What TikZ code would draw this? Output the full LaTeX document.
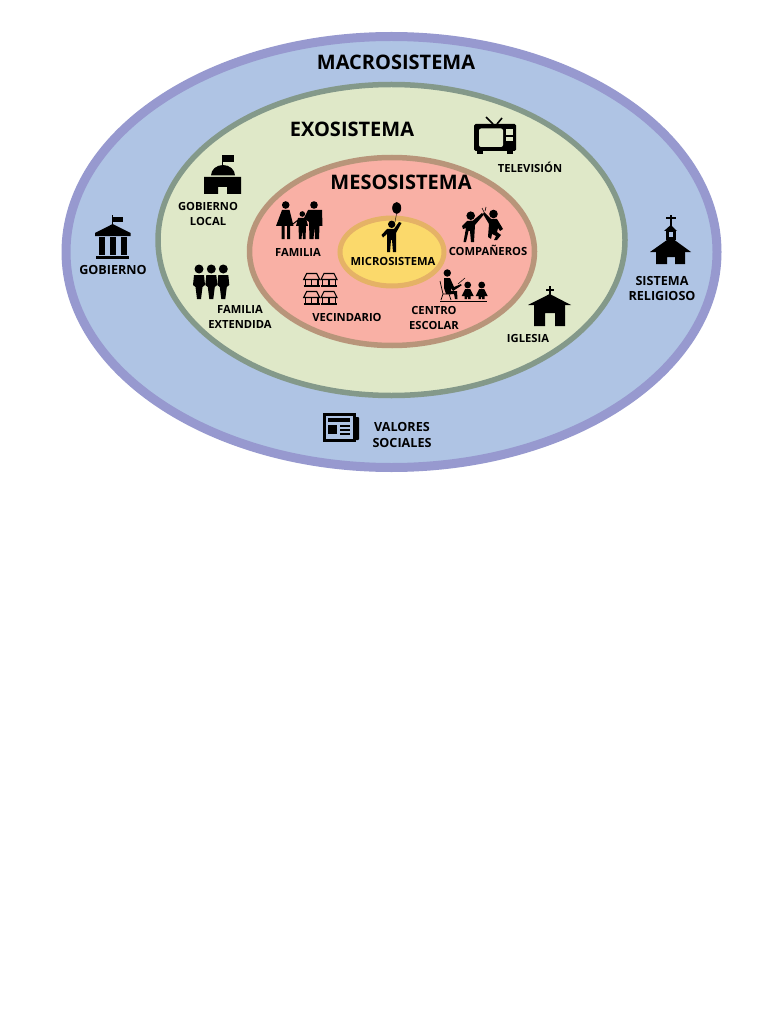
\documentclass[tikz,border=0pt]{standalone}
\usepackage{fontspec}
\setmainfont{Open Sans}
\definecolor{macrofill}{HTML}{AFC4E4}
\definecolor{macroline}{HTML}{9799CF}
\definecolor{exofill}{HTML}{DFE8C8}
\definecolor{exoline}{HTML}{84998A}
\definecolor{mesofill}{HTML}{F9B0A5}
\definecolor{mesoline}{HTML}{B8957A}
\definecolor{microfill}{HTML}{FBD96B}
\definecolor{microline}{HTML}{E5B266}
\tikzset{
    title/.style={font=\bfseries\fontsize{20}{22}\selectfont, text=black, inner sep=0pt},
    label/.style={font=\bfseries\fontsize{11.2}{14.3}\selectfont, text=black, inner sep=0pt, align=center},
    outerlabel/.style={font=\bfseries\fontsize{12.6}{15.5}\selectfont, text=black, inner sep=0pt, align=center},
    house/.pic={
        \draw [line width=1.1pt] (-8,-6.5) -- (-5,-12.5) -- (5,-12.5) -- (8,-6.5) -- cycle;
        \draw [line width=1.1pt] (-6.3,-6.5) -- (-6.3,0);
        \draw [line width=1.1pt] (6.3,-6.5) -- (6.3,0);
        \draw [line width=1.1pt] (0,-6.5) -- (0,0);
        \draw [line width=1.3pt] (-8,0) -- (8,0);
    }
}
\begin{document}
\begin{tikzpicture}[x=1pt, y=-1pt]
    \useasboundingbox (0,0) rectangle (768,1024);
    \fill [white] (0,0) rectangle (768,1024);
    \draw [macroline, fill=macrofill, line width=9pt] (391.5,252) ellipse (325.5 and 215.5);
    \draw [exoline, fill=exofill, line width=5.5pt] (391.5,240) ellipse (233.5 and 155.5);
    \draw [mesoline, fill=mesofill, line width=5.5pt] (392,251.5) ellipse (142.5 and 94);
    \draw [microline, fill=microfill, line width=5pt] (392,252) ellipse (52 and 34);

    \node [title] (macro) at (396,62) {MACROSISTEMA};
    \node [title] (exo) at (352,129) {EXOSISTEMA};
    \node [title] (meso) at (401,182) {MESOSISTEMA};
    \node [label] (micro) at (393,261) {MICROSISTEMA};
    \node [label] (familia) at (298,252) {FAMILIA};
    \node [label] (companeros) at (488,250) {COMPAÑEROS};
    \node [label] (gobiernolocal) at (208,214) {GOBIERNO\\LOCAL};
    \node [outerlabel] (gobierno) at (113,270) {GOBIERNO};
    \node [label] (extendida) at (240,317) {FAMILIA\\EXTENDIDA};
    \node [label] (vecindario) at (347,317) {VECINDARIO};
    \node [label] (escolar) at (434,318) {CENTRO\\ESCOLAR};
    \node [label] (iglesia) at (528,338) {IGLESIA};
    \node [label] (television) at (530,167) {TELEVISIÓN};
    \node [outerlabel] (religioso) at (662,288.5) {SISTEMA\\RELIGIOSO};
    \node [outerlabel] (valores) at (402,435) {VALORES\\SOCIALES};

    \fill (112.2,215) rectangle (113.2,225);
    \fill (113,217) rectangle (123,222);
    \fill (95,233) -- (112.7,224) -- (130.7,233) -- (130.7,236) -- (95,236) -- cycle;
    \fill (99,237) rectangle (105,255);
    \fill (110,237) rectangle (116,255);
    \fill (121,237) rectangle (126.5,255);
    \fill (96,256) rectangle (129,259);

    \fill (221.5,155) rectangle (222.7,166);
    \fill (222.7,155) rectangle (234,162);
    \fill (211,175.5) arc (180:360:12 and 10.5) -- cycle;
    \fill (204,177) -- (241,177) -- (241,194) -- (227,194) -- (227,187) -- (218,187) -- (218,194) -- (204,194) -- cycle;

    \fill (285.7,205) circle (3.8);
    \fill (282,210) -- (289.5,210) -- (293.5,226) -- (290,226) -- (290,239) -- (287,239) -- (287,226) -- (284.5,226) -- (284.5,239) -- (281.5,239) -- (281.5,226) -- (276,226) -- cycle;
    \fill (314,205) circle (3.8);
    \fill (308,210) -- (322,210) -- (322.5,226) -- (319.5,226) -- (319,239) -- (315,239) -- (314.5,226) -- (313.5,239) -- (309.5,239) -- (309,222) -- (304,218) -- cycle;
    \fill (302.3,214) circle (2.8);
    \fill (298,218) -- (306,218) -- (308,226) -- (306,226) -- (305.5,239) -- (303,239) -- (302.3,230) -- (301.5,239) -- (299,239) -- (298.5,226) -- (296,226) -- cycle;
    \draw [line width=1pt] (293,224) -- (298,220);

    \foreach \x in {199,211.3,223.3} {
        \fill (\x,269) circle (4.5);
        \fill (\x-5,275) -- (\x+5,275) -- (\x+6,285) -- (\x+3.5,287) -- (\x+2,299) -- (\x-2,299) -- (\x-3.5,287) -- (\x-6,285) -- cycle;
    }

    \path (311.7,286) pic {house} (329,286) pic {house} (311.7,304) pic {house} (329,304) pic {house};

    \fill [rounded corners=1.5pt] (474,124) rectangle (516,151);
    \fill [exofill, rounded corners=2pt] (479,128.5) rectangle (503,147);
    \fill [exofill] (506,129) rectangle (513,135);
    \fill [exofill] (506,137) rectangle (513,141);
    \fill (477,151) rectangle (483,154);
    \fill (507,151) rectangle (513,154);
    \draw [line width=1.6pt] (486,117) -- (493,124);
    \draw [line width=1.6pt] (502,118) -- (497,124);

    \fill (669.7,215) rectangle (671.7,226);
    \fill (666,217) rectangle (676,219.5);
    \fill (664,231) -- (670.7,225) -- (677,231) -- cycle;
    \fill (666,231) rectangle (675.5,240);
    \fill [macrofill] (669,232) rectangle (672.5,237);
    \fill (650,252) -- (667,240) -- (674.5,240) -- (691,252) -- cycle;
    \fill (656,252) -- (685,252) -- (685,264) -- (675,264) -- (675,257) -- (667,257) -- (667,264) -- (656,264) -- cycle;

    \fill (548.7,286) rectangle (550.7,295);
    \fill (546,289) rectangle (553.5,291);
    \fill (528,305) -- (549.7,294) -- (571,305) -- cycle;
    \fill (534,305) -- (565,305) -- (565,326) -- (555,326) -- (555,313) -- (545,313) -- (545,326) -- (534,326) -- cycle;

    \fill (470.7,215.7) circle (4.3);
    \fill (462,226) -- (467,221) -- (473,220.5) -- (482,213) -- (483.5,215) -- (475,225) -- (474,242) -- (471,242) -- (470,231) -- (468.5,231) -- (466,242) -- (463.5,242) -- (466,228) -- (463,229) -- cycle;
    \fill (493.5,214) circle (4.3);
    \fill (484,212) -- (491,219) -- (497,219) -- (503,229) -- (500,231) -- (498,228) -- (497,232) -- (501,235) -- (497,240) -- (494,240) -- (496,236) -- (492,234) -- (491,239) -- (488,237) -- (489,224) -- (483,214) -- cycle;
    \draw [line width=0.6pt] (482,208) -- (484,212);
    \draw [line width=0.6pt] (486,207) -- (485,211);

    \fill (396.7,208) ellipse (4.5 and 6);
    \draw [line width=0.4pt] (396.5,214) -- (395,222);
    \fill (391.7,224.3) circle (3.7);
    \fill (381.5,235) -- (387,229) -- (394,229) -- (399,222) -- (401.5,223) -- (396,233) -- (396,252) -- (393,252) -- (392,240) -- (391,240) -- (390,252) -- (387,252) -- (387,234) -- (383,237.5) -- cycle;

    \fill (447.3,273) circle (3.7);
    \fill (444,278) -- (450,278) -- (454,287) -- (461,284) -- (461.5,285.5) -- (453,291) -- (451,288) -- (451,291) -- (457,291) -- (457.5,299) -- (455,299) -- (454,294) -- (446,294) -- (444,288) -- cycle;
    \draw [line width=0.7pt] (440,281) -- (443,294) -- (451,294);
    \draw [line width=0.7pt] (443,294) -- (441,300);
    \draw [line width=0.7pt] (449,294) -- (451,300);
    \draw [line width=0.5pt] (458,284) -- (465,278);
    \foreach \x in {467.7,481.7} {
        \fill (\x,285) circle (3.4);
        \fill (\x-2.5,289) -- (\x+2.5,289) -- (\x+6,296) -- (\x+3,296) -- (\x+3,299) -- (\x+0.5,299) -- (\x+0.5,297) -- (\x-0.5,297) -- (\x-0.5,299) -- (\x-3,299) -- (\x-3,296) -- (\x-6,296) -- cycle;
    }
    \draw [line width=1pt] (440,301.5) -- (487,301.5);

    \fill [rounded corners=1pt] (352,417) rectangle (359,440);
    \draw [line width=3pt, fill=macrofill] (324.2,414.5) rectangle (354,440.5);
    \fill (327.5,418) rectangle (350,421.5);
    \fill (327.5,425) rectangle (337,434);
    \fill (339.5,425) rectangle (350,427);
    \fill (339.5,429) rectangle (350,431);
    \fill (339.5,433) rectangle (350,435);
\end{tikzpicture}
\end{document}
